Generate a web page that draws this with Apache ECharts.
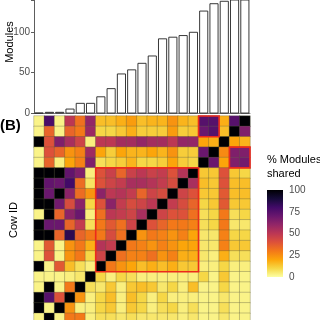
<!DOCTYPE html>
<html><head><meta charset="utf-8">
<script src="https://cdn.jsdelivr.net/npm/echarts@6/dist/echarts.min.js"></script>
<style>html,body{margin:0;padding:0;background:#fff}#c{width:320px;height:320px}</style>
</head><body><div id="c"></div>
<script>
// Cows ordered by number of modules (ascending) = heatmap columns
const cows = ['C01','C02','C03','C04','C05','C06','C07','C08','C09','C10','C11','C12','C13','C14','C15','C16','C17','C18','C19','C20','C21'];
// Heatmap rows, top to bottom
const rowCows = cows.slice().reverse();
// Panel A: modules per cow
const modules = [1, 2, 2, 6, 13, 13, 21, 31, 49, 54, 62, 71, 92, 94, 96, 100, 126, 135, 138, 150, 165];
const barTicks = [0, 50, 100];
const legendTicks = [0, 25, 50, 75, 100];
// Panel B: % modules shared (rows top->bottom, columns left->right)
const shared = [
  [3, 78, 3, 50, 32, 60, 15, 15, 18, 22, 15, 17, 17, 24, 17, 15, 75, 75, 18, 75, 100],
  [3, 35, 3, 35, 30, 58, 10, 10, 13, 18, 12, 12, 12, 22, 12, 13, 70, 75, 15, 100, 65],
  [100, 40, 65, 55, 45, 4, 50, 50, 56, 56, 60, 56, 56, 50, 60, 60, 20, 18, 100, 20, 17],
  [3, 40, 35, 24, 28, 57, 20, 12, 20, 17, 17, 20, 17, 24, 12, 12, 70, 100, 26, 65, 65],
  [3, 35, 4, 20, 28, 65, 8, 10, 12, 17, 10, 10, 12, 20, 12, 10, 100, 70, 20, 65, 68],
  [100, 100, 100, 72, 65, 4, 40, 46, 35, 46, 50, 46, 48, 40, 52, 100, 13, 13, 40, 13, 10],
  [100, 72, 70, 80, 33, 7, 40, 45, 48, 55, 55, 52, 48, 42, 100, 55, 15, 13, 40, 15, 15],
  [100, 70, 100, 62, 33, 24, 62, 50, 52, 48, 35, 45, 42, 100, 45, 40, 13, 13, 38, 15, 15],
  [100, 100, 68, 42, 62, 10, 40, 62, 48, 42, 45, 50, 100, 48, 42, 35, 10, 13, 38, 13, 13],
  [3, 100, 35, 62, 70, 4, 32, 50, 48, 45, 55, 100, 45, 40, 40, 32, 8, 10, 30, 8, 10],
  [100, 70, 70, 35, 48, 8, 30, 38, 32, 45, 100, 40, 35, 30, 30, 28, 8, 10, 30, 6, 6],
  [100, 100, 35, 85, 35, 30, 30, 42, 32, 100, 24, 30, 28, 24, 28, 20, 6, 6, 28, 10, 10],
  [3, 38, 3, 24, 30, 18, 52, 48, 100, 30, 28, 24, 28, 24, 20, 20, 6, 6, 28, 13, 13],
  [3, 40, 3, 24, 30, 10, 45, 100, 32, 28, 28, 32, 24, 28, 18, 18, 6, 4, 18, 8, 8],
  [100, 3, 38, 15, 8, 4, 100, 30, 24, 20, 15, 18, 15, 18, 13, 13, 4, 4, 10, 4, 4],
  [3, 3, 3, 4, 6, 100, 10, 4, 10, 8, 4, 4, 4, 4, 4, 4, 10, 3, 13, 3, 3],
  [3, 100, 3, 30, 100, 8, 6, 13, 4, 13, 15, 13, 6, 10, 4, 15, 3, 3, 10, 3, 3],
  [100, 75, 40, 100, 24, 4, 10, 15, 4, 15, 10, 4, 10, 4, 4, 4, 3, 3, 6, 3, 3],
  [100, 3, 100, 24, 4, 4, 10, 13, 4, 13, 10, 4, 8, 10, 4, 8, 3, 3, 8, 3, 3],
  [3, 100, 3, 30, 30, 4, 8, 8, 6, 8, 6, 6, 6, 6, 4, 6, 3, 3, 6, 3, 3],
  [100, 3, 3, 8, 8, 3, 4, 4, 4, 4, 4, 4, 4, 4, 4, 4, 3, 3, 4, 3, 3]
];
// Highlight boxes: [firstCol, firstRow, lastCol, lastRow] (category indices)
const boxes = [
  [6, 5, 15, 14],
  [16, 0, 17, 1],
  [19, 3, 20, 4]
];
const palette = ['#FCFFA4','#F6D746','#FCA50A','#F37819','#DD513A','#BC3754','#932667','#6A176E','#420A68','#160B39','#000004'];

const heatData = [];
shared.forEach((row, r) => row.forEach((v, c) => heatData.push([c, r, v])));

const FONT = 'Liberation Sans, Arial, sans-serif';
const chart = echarts.init(document.getElementById('c'));
chart.setOption({
  animation: false,
  textStyle: {fontFamily: FONT},
  grid: [
    {left: 34, top: 0, width: 216, height: 113.5, outerBoundsMode: 'none', containLabel: false},
    {left: 34, top: 116, width: 216, height: 218, outerBoundsMode: 'none', containLabel: false},
    {left: 267, top: 190, width: 16, height: 87, outerBoundsMode: 'none', containLabel: false}
  ],
  xAxis: [
    {gridIndex: 0, type: 'category', data: cows, axisLine: {show: true, lineStyle: {color: '#222', width: 0.6}}, axisTick: {show: false}, axisLabel: {show: false}},
    {gridIndex: 1, type: 'category', data: cows, show: false},
    {gridIndex: 2, type: 'category', data: ['k'], show: false}
  ],
  yAxis: [
    {gridIndex: 0, type: 'value', min: 0, max: 139, interval: 50,
     axisLine: {show: true, lineStyle: {color: '#333', width: 0.8}},
     axisTick: {show: true, length: 3, lineStyle: {color: '#333', width: 0.8}},
     axisLabel: {fontSize: 10, color: '#4d4d4d', margin: 4, fontFamily: FONT,
       formatter: v => barTicks.includes(v) ? String(v) : ''},
     splitLine: {show: false}},
    {gridIndex: 1, type: 'category', data: rowCows, inverse: true, show: false},
    {gridIndex: 2, type: 'value', min: 0, max: 100, interval: 25, position: 'right',
     axisLine: {show: false},
     axisTick: {show: true, inside: true, length: 3, lineStyle: {color: '#fff', width: 0.8}},
     axisLabel: {fontSize: 10, color: '#4d4d4d', margin: 6, fontFamily: FONT,
       formatter: v => legendTicks.includes(v) ? String(v) : ''},
     splitLine: {show: false}}
  ],
  visualMap: {show: false, type: 'continuous', min: 0, max: 100, seriesIndex: 1, inRange: {color: palette}},
  series: [
    {type: 'bar', xAxisIndex: 0, yAxisIndex: 0, data: modules, barWidth: '88%', clip: true,
     itemStyle: {color: '#fff', borderColor: '#222', borderWidth: 0.9}},
    {type: 'heatmap', xAxisIndex: 1, yAxisIndex: 1, data: heatData,
     itemStyle: {borderColor: 'rgba(90,90,60,0.45)', borderWidth: 0.7}},
    {type: 'custom', xAxisIndex: 1, yAxisIndex: 1, data: boxes, encode: {x: [0, 2], y: [1, 3]}, z: 5,
     renderItem: (params, api) => {
       const a = api.coord([api.value(0), api.value(1)]);
       const b = api.coord([api.value(2), api.value(3)]);
       const s = api.size([1, 1]);
       const x0 = Math.min(a[0], b[0]) - s[0] / 2, x1 = Math.max(a[0], b[0]) + s[0] / 2;
       const y0 = Math.min(a[1], b[1]) - s[1] / 2, y1 = Math.max(a[1], b[1]) + s[1] / 2;
       return {type: 'rect', shape: {x: x0, y: y0, width: x1 - x0, height: y1 - y0},
               style: {fill: null, stroke: '#ec2a1c', lineWidth: 1.6}};
     }},
    {type: 'bar', xAxisIndex: 2, yAxisIndex: 2, data: [100], barWidth: '100%',
     itemStyle: {color: new echarts.graphic.LinearGradient(0, 1, 0, 0,
       palette.map((c, i) => ({offset: i / (palette.length - 1), color: c})))}}
  ],
  graphic: [
    {type: 'text', x: 10, y: 42, rotation: Math.PI / 2,
     style: {text: 'Modules', fontSize: 11, fontFamily: FONT, fill: '#000', textAlign: 'center', textVerticalAlign: 'middle', align: 'center', verticalAlign: 'middle'}},
    {type: 'text', x: 14, y: 220, rotation: Math.PI / 2,
     style: {text: 'Cow ID', fontSize: 11, fontFamily: FONT, fill: '#000', textAlign: 'center', textVerticalAlign: 'middle', align: 'center', verticalAlign: 'middle'}},
    {type: 'text', x: 0, y: 126,
     style: {text: '(B)', fontSize: 15, fontWeight: 'bold', fontFamily: FONT, fill: '#000', textAlign: 'left', textVerticalAlign: 'middle', align: 'left', verticalAlign: 'middle'}},
    {type: 'text', x: 267, y: 160,
     style: {text: '% Modules', fontSize: 11, fontFamily: FONT, fill: '#000', textAlign: 'left', textVerticalAlign: 'middle', align: 'left', verticalAlign: 'middle'}},
    {type: 'text', x: 267, y: 174,
     style: {text: 'shared', fontSize: 11, fontFamily: FONT, fill: '#000', textAlign: 'left', textVerticalAlign: 'middle', align: 'left', verticalAlign: 'middle'}}
  ]
});
</script>
</body></html>
